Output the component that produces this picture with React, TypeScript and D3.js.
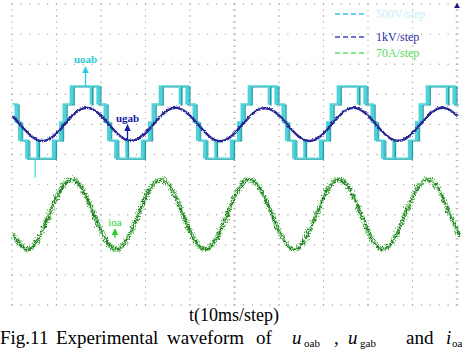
import React from 'react';
import * as d3 from 'd3';

// ---------- data ----------
// time axis: 10 ms / division, 10 divisions
const timeGrid = [0, 10, 20, 30, 40, 50, 60, 70, 80, 90, 100];
const divGrid = [0, 1, 2, 3, 4, 5, 6, 7, 8, 9, 10];

// sample instants (ms), every 2.5 ms
const sampleT = [0, 2.5, 5, 7.5, 10, 12.5, 15, 17.5, 20, 22.5, 25, 27.5, 30, 32.5, 35, 37.5, 40, 42.5, 45, 47.5, 50, 52.5, 55, 57.5, 60, 62.5, 65, 67.5, 70, 72.5, 75, 77.5, 80, 82.5, 85, 87.5, 90, 92.5, 95, 97.5, 100];

// ugab (kV)
const ugabKV = [0.27, -0.15, -0.48, -0.53, -0.27, 0.15, 0.48, 0.53,
  0.26, -0.16, -0.48, -0.52, -0.26, 0.16, 0.49, 0.53,
  0.26, -0.15, -0.49, -0.53, -0.26, 0.15, 0.48, 0.52,
  0.27, -0.15, -0.48, -0.53, -0.27, 0.15, 0.48, 0.53,
  0.26, -0.16, -0.48, -0.52, -0.26, 0.16, 0.49, 0.53, 0.27];

// ioa (A)
const ioaA = [-48, -80, -66, -13, 48, 80, 65, 13,
  -47, -81, -65, -12, 47, 80, 66, 13,
  -48, -80, -65, -13, 48, 81, 65, 12,
  -47, -80, -66, -13, 47, 80, 65, 13,
  -48, -81, -65, -12, 48, 80, 66, 13, -47];

// uoab (V): switching edges [time ms, level V]
const uoabEdges: [number, number][] = [
  [0, 300],
  [0.7, 0], [0.9, 300], [1.2, 0], [1.5, -300], [1.7, 0], [2.0, -300],
  [3.1, -600], [3.3, -300], [3.6, -600], [5.6, -300], [5.8, -600],
  [9.1, -300], [9.3, -600], [9.6, -300], [10.7, 0], [10.9, -300], [11.2, 0],
  [11.5, 300], [11.7, 0], [12.0, 300], [13.1, 600], [13.3, 300], [13.6, 600],
  [17.6, 300], [17.8, 600], [19.1, 300], [19.3, 600], [19.6, 300],
  [20.7, 0], [20.9, 300], [21.2, 0], [21.5, -300], [21.7, 0], [22.0, -300],
  [23.1, -600], [23.3, -300], [23.6, -600], [25.6, -300], [25.8, -600],
  [29.1, -300], [29.3, -600], [29.6, -300], [30.7, 0], [30.9, -300], [31.2, 0],
  [31.5, 300], [31.7, 0], [32.0, 300], [33.1, 600], [33.3, 300], [33.6, 600],
  [37.6, 300], [37.8, 600], [39.1, 300], [39.3, 600], [39.6, 300],
  [40.7, 0], [40.9, 300], [41.2, 0], [41.5, -300], [41.7, 0], [42.0, -300],
  [43.1, -600], [43.3, -300], [43.6, -600], [45.6, -300], [45.8, -600],
  [49.1, -300], [49.3, -600], [49.6, -300], [50.7, 0], [50.9, -300], [51.2, 0],
  [51.5, 300], [51.7, 0], [52.0, 300], [53.1, 600], [53.3, 300], [53.6, 600],
  [57.6, 300], [57.8, 600], [59.1, 300], [59.3, 600], [59.6, 300],
  [60.7, 0], [60.9, 300], [61.2, 0], [61.5, -300], [61.7, 0], [62.0, -300],
  [63.1, -600], [63.3, -300], [63.6, -600], [65.6, -300], [65.8, -600],
  [69.1, -300], [69.3, -600], [69.6, -300], [70.7, 0], [70.9, -300], [71.2, 0],
  [71.5, 300], [71.7, 0], [72.0, 300], [73.1, 600], [73.3, 300], [73.6, 600],
  [77.6, 300], [77.8, 600], [79.1, 300], [79.3, 600], [79.6, 300],
  [80.7, 0], [80.9, 300], [81.2, 0], [81.5, -300], [81.7, 0], [82.0, -300],
  [83.1, -600], [83.3, -300], [83.6, -600], [85.6, -300], [85.8, -600],
  [89.1, -300], [89.3, -600], [89.6, -300], [90.7, 0], [90.9, -300], [91.2, 0],
  [91.5, 300], [91.7, 0], [92.0, 300], [93.1, 600], [93.3, 300], [93.6, 600],
  [97.6, 300], [97.8, 600], [99.1, 300], [99.3, 600], [99.6, 300], [100, 300],
];
const uoabGlitches: [number, number][] = [[5.2, -920]];

// channel settings: offset (div) and scale per div
const chUgab = { offset: 6.03, perDiv: 1 };     // 1kV/step
const chIoa = { offset: 3.07, perDiv: 70 };     // 70A/step
const chUoab = { offset: 6.08, perDiv: 500 };   // 500V/step

const legendLabels = ['500V/step', '1kV/step', '70A/step'];
const legendColors = ['#3cc6e0', '#4646c8', '#5ade5a'];
const legendTextColors = ['#c6eef8', '#2c2ca6', '#5ad85a'];

const SERIF = "'Liberation Serif', 'Times New Roman', Times, serif";

export default function App() {
  const x = d3.scaleLinear().domain([0, 100]).range([12, 457]);
  const y = d3.scaleLinear().domain([0, 10]).range([305, 4]);

  const ugabLine = d3.line<number>()
    .x((_, i) => x(sampleT[i]))
    .y((v) => y(chUgab.offset + v / chUgab.perDiv))
    .curve(d3.curveNatural);
  const ioaLine = d3.line<number>()
    .x((_, i) => x(sampleT[i]))
    .y((v) => y(chIoa.offset + v / chIoa.perDiv))
    .curve(d3.curveNatural);
  const uoabLine = d3.line<[number, number]>()
    .x((d) => x(d[0]))
    .y((d) => y(chUoab.offset + d[1] / chUoab.perDiv))
    .curve(d3.curveStepAfter);

  // grid dots
  const dots: JSX.Element[] = [];
  timeGrid.forEach((t, i) => {
    d3.range(0, 10.001, 0.2).forEach((dv, j) => {
      dots.push(<circle key={`v${i}-${j}`} cx={x(t)} cy={y(dv)} r={0.7} fill="#a4a4a4" />);
    });
  });
  divGrid.forEach((dv, i) => {
    d3.range(0, 100.001, 2).forEach((t, j) => {
      dots.push(<circle key={`h${i}-${j}`} cx={x(t)} cy={y(dv)} r={0.7} fill="#a4a4a4" />);
    });
  });
  const ticks: JSX.Element[] = [];
  d3.range(0, 10.001, 0.2).forEach((dv, j) => {
    ticks.push(<line key={`cv${j}`} x1={x(50) - 1.5} x2={x(50) + 1.5} y1={y(dv)} y2={y(dv)} stroke="#b0b0b0" strokeWidth={0.7} />);
    ticks.push(<line key={`rv${j}`} x1={x(100) - 1.5} x2={x(100) + 1.5} y1={y(dv)} y2={y(dv)} stroke="#b0b0b0" strokeWidth={0.7} />);
  });

  const arrow = (cx: number, yTop: number, yBot: number, color: string) => (
    <g>
      <line x1={cx} x2={cx} y1={yTop + 5} y2={yBot} stroke={color} strokeWidth={1.3} />
      <path d={`M${cx},${yTop} L${cx - 3.2},${yTop + 7} L${cx + 3.2},${yTop + 7} Z`} fill={color} />
    </g>
  );

  const ioaPath = ioaLine(ioaA) || '';
  const ugabPath = ugabLine(ugabKV) || '';
  const uoabPath = uoabLine(uoabEdges) || '';

  return (
    <svg width={474} height={363} style={{ position: 'absolute', left: 0, top: 0, background: '#fff', fontFamily: SERIF }}>
      <defs>
        <filter id="noisy" x="-5%" y="-20%" width="110%" height="140%">
          <feTurbulence type="turbulence" baseFrequency="0.9 0.35" numOctaves={2} seed={7} result="t" />
          <feDisplacementMap in="SourceGraphic" in2="t" scale={7} xChannelSelector="R" yChannelSelector="G" />
        </filter>
        <filter id="noisySmall" x="-5%" y="-20%" width="110%" height="140%">
          <feTurbulence type="turbulence" baseFrequency="0.8" numOctaves={1} seed={3} result="t" />
          <feDisplacementMap in="SourceGraphic" in2="t" scale={2.5} xChannelSelector="R" yChannelSelector="G" />
        </filter>
      </defs>
      <rect x={0} y={0} width={474} height={363} fill="#fff" />
      <g>{dots}</g>
      <g>{ticks}</g>
      {/* trigger marker */}
      <path d={`M${x(100)},${y(10) - 1} L${x(100) - 3},${y(10) + 4} L${x(100) + 3},${y(10) + 4} Z`} fill="#1c1c80" />

      {/* uoab: two overlapping traces */}
      <path d={uoabPath} fill="none" stroke="#1e9ea4" strokeWidth={1.1} transform="translate(1.8,1)" />
      <path d={uoabPath} fill="none" stroke="#4cd4dc" strokeWidth={1.3} />
      {uoabGlitches.map((g, i) => (
        <line key={i} x1={x(g[0])} x2={x(g[0])} y1={y(chUoab.offset - 600 / chUoab.perDiv)}
          y2={y(chUoab.offset + g[1] / chUoab.perDiv)} stroke="#4cd4dc" strokeWidth={1.3} />
      ))}

      {/* ugab */}
      <g filter="url(#noisySmall)">
        <path d={ugabPath} fill="none" stroke="#262694" strokeWidth={2.4} />
      </g>

      {/* ioa */}
      <g filter="url(#noisy)">
        <path d={ioaPath} fill="none" stroke="#7ccc7c" strokeWidth={4} />
        <path d={ioaPath} fill="none" stroke="#2a7a2a" strokeWidth={1.6} />
      </g>

      {/* trace labels */}
      <text x={85.5} y={63} textAnchor="middle" fontSize={11} fill="#2ec8d8" fontWeight="bold">uoab</text>
      {arrow(85.5, 66, 87, '#2ec8e8')}
      <text x={127.5} y={122} textAnchor="middle" fontSize={11} fill="#1a1aa8" fontWeight="bold">ugab</text>
      {arrow(127.5, 124, 140, '#1a1ab0')}
      <text x={115} y={226} textAnchor="middle" fontSize={11} fill="#28d028">ioa</text>
      {arrow(115, 228, 238, '#28d028')}

      {/* legend */}
      {legendLabels.map((lab, i) => {
        const ly = [14, 37, 53][i];
        return (
          <g key={lab}>
            <line x1={335} x2={366} y1={ly} y2={ly} stroke={legendColors[i]} strokeWidth={1.5} strokeDasharray="5 3" />
            <text x={376} y={ly + 4} fontSize={12} fill={legendTextColors[i]}>{lab}</text>
          </g>
        );
      })}

      {/* axis caption */}
      <text x={234} y={321} textAnchor="middle" fontSize={18} fill="#000">t(10ms/step)</text>

      {/* figure caption */}
      <g fontSize={19} fill="#000">
        <text x={0} y={344}>Fig.11</text>
        <text x={56} y={344}>Experimental</text>
        <text x={167} y={344}>waveform</text>
        <text x={256} y={344}>of</text>
        <text x={292} y={344} fontStyle="italic">u</text>
        <text x={304} y={347} fontSize={11}>oab</text>
        <text x={334} y={344}>,</text>
        <text x={348} y={344} fontStyle="italic">u</text>
        <text x={360} y={347} fontSize={11}>gab</text>
        <text x={406} y={344}>and</text>
        <text x={446} y={344} fontStyle="italic">i</text>
        <text x={452} y={347} fontSize={11}>oa</text>
      </g>
    </svg>
  );
}
